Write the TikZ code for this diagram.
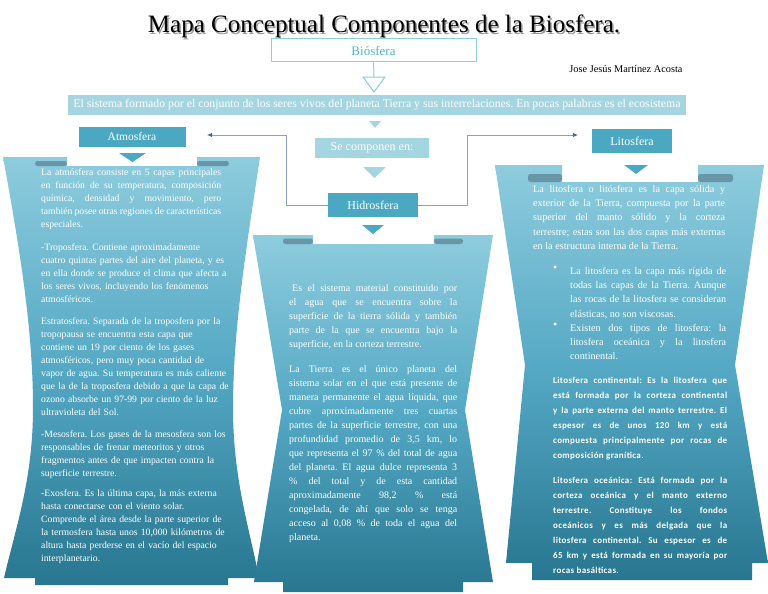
\documentclass[tikz,border=0pt]{standalone}
\usepackage{fontspec}
\setmainfont{Liberation Serif}
\newfontfamily\carl[LetterSpace=4]{Carlito}
\usetikzlibrary{arrows.meta}
\definecolor{teal1}{RGB}{75,168,195}
\definecolor{light1}{RGB}{166,213,226}
\definecolor{tabc}{RGB}{104,150,166}
\definecolor{gtop}{RGB}{142,204,222}
\definecolor{gmid}{RGB}{84,168,196}
\definecolor{gbot}{RGB}{40,118,144}
\definecolor{connc}{RGB}{140,160,205}
\definecolor{arrowc}{RGB}{72,98,168}
\definecolor{biotext}{RGB}{80,180,204}
\definecolor{biobord}{RGB}{140,206,222}
\begin{document}
\frenchspacing
\begin{tikzpicture}[x=1pt,y=-1pt,
  box/.style={fill=teal1,text=white,inner sep=0pt,font=\fontsize{12}{14}\selectfont},
  lbox/.style={fill=light1,text=white,inner sep=0pt,font=\fontsize{12}{14}\selectfont},
  bodytext/.style={text=white,inner sep=0pt,anchor=north west,align=justify,font=\fontsize{9.7}{13}\selectfont},
  bodyrag/.style={bodytext,align=left},
  midtext/.style={bodytext,font=\fontsize{10}{14}\selectfont},
  rtext/.style={bodytext,font=\fontsize{10.2}{14.3}\selectfont},
  dottext/.style={text=white,inner sep=0pt,anchor=north west,font=\fontsize{12}{14.3}\selectfont},
  sanstext/.style={bodytext,font=\carl\bfseries\fontsize{9}{15}\selectfont},
  shp/.style={top color=gtop,bottom color=gbot,middle color=gmid},
  tabbar/.style={fill=tabc,rounded corners=2.5pt},
  connarrow/.style={draw=connc,line width=0.9pt,-{Latex[length=5pt,width=4.5pt,color=arrowc]}}
]
\useasboundingbox (0,0) rectangle (768,594);

% title
\node[anchor=base,text=black!40,font=\fontsize{25}{28}\selectfont] (titleshadow) at (385.5,34.5) {Mapa Conceptual Componentes de la Biosfera.};
\node[anchor=base,text=black,font=\fontsize{25}{28}\selectfont] (title) at (384,33) {Mapa Conceptual Componentes de la Biosfera.};

% Biosfera
\node[draw=biobord,line width=1pt,fill=white,minimum width=205pt,minimum height=23pt,inner sep=0pt,text=biotext,font=\fontsize{13}{15}\selectfont] (bio) at (373.5,50.5) {Biósfera};
\coordinate (hollowtop) at (374,77);
\draw[biobord,line width=1pt] (bio.south) -- (hollowtop);
\draw[biobord,line width=1pt,fill=white] (363,77) -- (385,77) -- (374,92) -- cycle;

\node[anchor=base east,font=\fontsize{10.3}{12}\selectfont] (author) at (686,73) {Jose Jesús Martínez Acosta};

% band
\node[fill=light1,text=white,minimum width=618pt,minimum height=20pt,inner sep=0pt,font=\fontsize{11.8}{13}\selectfont] (band) at (377,105) {El sistema formado por el conjunto de los seres vivos del planeta Tierra y sus interrelaciones. En pocas palabras es el ecosistema};
\fill[light1] (369,121) -- (381,121) -- (375,128) -- cycle;

% Se componen en
\node[lbox,minimum width=114pt,minimum height=20pt] (secomp) at (372,148) {Se componen en:};
\fill[light1] (363,167) -- (386,167) -- (374.5,178) -- cycle;

% Hidrosfera
\node[box,minimum width=90pt,minimum height=24pt] (hidro) at (373,205) {Hidrosfera};

% Atmosfera, Litosfera
\node[box,minimum width=107pt,minimum height=20pt,font=\fontsize{11.5}{13}\selectfont] (atmos) at (132,137) {Atmosfera};
\node[box,minimum width=80pt,minimum height=24pt] (lito) at (632,141) {Litosfera};

% connectors
\coordinate (aend) at (207,135);
\coordinate (lend) at (578,135);
\draw[connarrow] (hidro.west) -- ++(-41,0) |- (aend);
\draw[connarrow] (hidro.east) -- ++(49,0) |- (lend);

% ---- left banner ----
\shade[shp] (3,157) -- (67,157) -- (67,166) -- (197,166) -- (197,157) -- (260,157)
  .. controls (246,250) and (233,330) .. (233,408)
  .. controls (233,480) and (250,530) .. (259,578) -- (228,578) -- (228,585) -- (35,585) -- (35,578) -- (4,578)
  .. controls (15,530) and (33,480) .. (33,408)
  .. controls (33,330) and (20,250) .. cycle;
\fill[tabbar] (35,161) rectangle (67,166);
\fill[tabbar] (197,161) rectangle (229,166);
\fill[teal1] (119,153) -- (146,153) -- (132.5,162) -- cycle;

% ---- middle banner ----
\shade[shp] (253,235) -- (313,235) -- (313,244) -- (434,244) -- (434,235) -- (493,235)
  -- (465,410) -- (493,582) -- (463,582) -- (463,592) -- (283,592) -- (283,582) -- (254,582)
  -- (282,410) -- cycle;
\fill[tabbar] (283,238.5) rectangle (313,244);
\fill[tabbar] (434,238.5) rectangle (463,244);
\fill[teal1] (362,225) -- (384,225) -- (373,234) -- cycle;

% ---- right banner ----
\shade[shp] (495,165) -- (562,165) -- (562,182) -- (698,182) -- (698,165) -- (764,165)
  -- (735,365) -- (768,563) -- (752,563) -- (752,580) -- (532,580) -- (532,563) -- (506,563)
  -- (525,365) -- cycle;
\fill[tabbar] (528,174) rectangle (562,182);
\fill[tabbar] (698,174) rectangle (733,182);
\fill[teal1] (624,165) -- (648,165) -- (636,174) -- cycle;

% ---- left texts ----
\node[bodytext,text width=180pt] (a1) at (41,168) {La atmósfera consiste en 5 capas principales\linebreak
en función de su temperatura, composición\linebreak
química, densidad y movimiento, pero\linebreak
también posee otras regiones de características\linebreak
especiales.};
\node[bodyrag,text width=205pt] (a2) at (41,243) {-Troposfera. Contiene aproximadamente\\
cuatro quintas partes del aire del planeta, y es\\
en ella donde se produce el clima que afecta a\\
los seres vivos, incluyendo los fenómenos\\
atmosféricos.};
\node[bodyrag,text width=205pt] (a3) at (41,317) {Estratosfera. Separada de la troposfera por la\\
tropopausa se encuentra esta capa que\\
contiene un 19 por ciento de los gases\\
atmosféricos, pero muy poca cantidad de\\
vapor de agua. Su temperatura es más caliente\\
que la de la troposfera debido a que la capa de\\
ozono absorbe un 97-99 por ciento de la luz\\
ultravioleta del Sol.};
\node[bodyrag,text width=205pt] (a4) at (41,430) {-Mesosfera. Los gases de la mesosfera son los\\
responsables de frenar meteoritos y otros\\
fragmentos antes de que impacten contra la\\
superficie terrestre.};
\node[bodyrag,text width=205pt] (a5) at (41,489) {-Exosfera. Es la última capa, la más externa\\
hasta conectarse con el viento solar.\\
Comprende el área desde la parte superior de\\
la termosfera hasta unos 10,000 kilómetros de\\
altura hasta perderse en el vacío del espacio\\
interplanetario.};

% ---- middle texts ----
\node[midtext,text width=168pt] (h1) at (289,284) {\hspace*{3pt}Es el sistema material constituido por\linebreak
el agua que se encuentra sobre la\linebreak
superficie de la tierra sólida y también\linebreak
parte de la que se encuentra bajo la\linebreak
superficie, en la corteza terrestre.};
\node[midtext,text width=168pt] (h2) at (289,365) {La Tierra es el único planeta del\linebreak
sistema solar en el que está presente de\linebreak
manera permanente el agua líquida, que\linebreak
cubre aproximadamente tres cuartas\linebreak
partes de la superficie terrestre, con una\linebreak
profundidad promedio de 3,5 km, lo\linebreak
que representa el 97 \% del total de agua\linebreak
del planeta. El agua dulce representa 3\linebreak
\% del total y de esta cantidad\linebreak
aproximadamente 98,2 \% está\linebreak
congelada, de ahí que solo se tenga\linebreak
acceso al 0,08 \% de toda el agua del\linebreak
planeta.};

% ---- right texts ----
\node[rtext,text width=192pt] (l1) at (533,185) {La litosfera o litósfera es la capa sólida y\linebreak
exterior de la Tierra, compuesta por la parte\linebreak
superior del manto sólido y la corteza\linebreak
terrestre; estas son las dos capas más externas\linebreak
en la estructura interna de la Tierra.};
\node[dottext] (b1dot) at (553,266) {•};
\node[rtext,text width=156pt] (b1) at (570,267) {La litosfera es la capa más rígida de\linebreak
todas las capas de la Tierra. Aunque\linebreak
las rocas de la litosfera se consideran\linebreak
elásticas, no son viscosas.};
\node[dottext] (b2dot) at (553,323) {•};
\node[rtext,text width=156pt] (b2) at (570,324) {Existen dos tipos de litosfera: la\linebreak
litosfera oceánica y la litosfera\linebreak
continental.};
\node[sanstext,text width=174pt] (c1) at (553,377) {Litosfera continental: Es la litosfera que\linebreak
está formada por la corteza continental\linebreak
y la parte externa del manto terrestre. El\linebreak
espesor es de unos 120 km y está\linebreak
compuesta principalmente por rocas de\linebreak
composición granítica.};
\node[sanstext,text width=174pt] (c2) at (553,477) {Litosfera oceánica: Está formada por la\linebreak
corteza oceánica y el manto externo\linebreak
terrestre. Constituye los fondos\linebreak
oceánicos y es más delgada que la\linebreak
litosfera continental. Su espesor es de\linebreak
65 km y está formada en su mayoría por\linebreak
rocas basálticas.};
\end{tikzpicture}
\end{document}
